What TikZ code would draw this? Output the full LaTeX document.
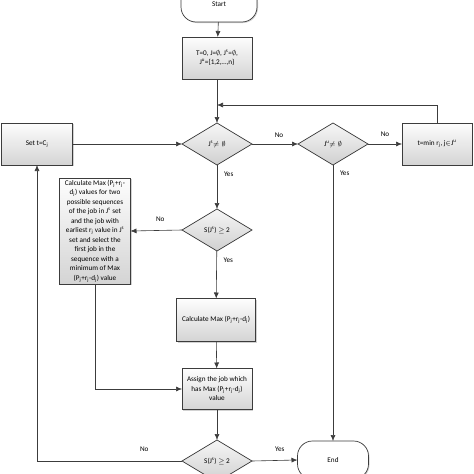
\documentclass[tikz,border=0pt]{standalone}
\usepackage{fontspec}
\setmainfont{Carlito}
\newcommand*{\flowfont}{\fontsize{7.2}{9.5}\selectfont}
\newcommand*{\lo}[1]{\textsubscript{#1}}
\newcommand*{\hi}[1]{\textsuperscript{#1}}
\definecolor{linegrey}{RGB}{60,60,60}
\definecolor{boxtop}{RGB}{253,253,253}
\definecolor{boxbottom}{RGB}{212,212,212}
\definecolor{diatop}{RGB}{246,246,246}
\definecolor{diabottom}{RGB}{208,208,208}
\usepackage{tikz}
\usetikzlibrary{arrows.meta}
\usetikzlibrary{shapes.geometric}
\usetikzlibrary{shadows}
\tikzstyle{base}=[x=1pt, y=-1pt, inner sep=0pt, outer sep=0pt]
\tikzstyle{process}=[draw=linegrey, line width=0.7pt, top color=boxtop, bottom color=boxbottom,
    drop shadow={shadow xshift=1pt, shadow yshift=-1pt, opacity=0.35}, align=center, font=\flowfont]
\tikzstyle{decision}=[diamond, draw=linegrey, line width=0.7pt, top color=diatop, bottom color=diabottom,
    minimum width=70pt, minimum height=42pt, font=\flowfont]
\tikzstyle{terminal}=[draw=linegrey, line width=0.7pt, rounded corners=15pt, fill=white,
    drop shadow={shadow xshift=1pt, shadow yshift=-1pt, opacity=0.35}, font=\flowfont]
\tikzstyle{flow}=[draw=linegrey, line width=0.6pt, -{Latex[length=6pt, width=5pt]}]
\tikzstyle{tag}=[font=\flowfont, inner sep=1pt]

\begin{document}
\begin{tikzpicture}[base]
    \clip (0,0) rectangle (474,474);
    \fill [white] (0,0) rectangle (474,474);
    % nodes
    \node [terminal, minimum width=76pt, minimum height=36pt] (start) at (219,4) {Start};
    \node [process, minimum width=70pt, minimum height=42pt] (init) at (217,58)
        {T=0, J=$\emptyset$, J\hi{s}=$\emptyset$,\\ J\hi{u}=\{1,2,\dots,n\}};
    \node [decision] (unsched) at (217,144) {J\hi{s}$\neq\emptyset$};
    \node [decision] (rest) at (333,144) {J\hi{u}$\neq\emptyset$};
    \node [process, minimum width=71pt, minimum height=42pt] (settime) at (37,144) {Set t=C\lo{j}};
    \node [process, minimum width=70pt, minimum height=42pt] (mintime) at (437,144) {t=min r\lo{j}, j$\in$J\hi{u}};
    \node [decision] (count) at (217,230) {S(J\hi{s}) $\geq$ 2};
    \node [process, minimum width=71pt, minimum height=106pt] (compare) at (95,231)
        {Calculate Max (P\lo{j}+r\lo{j}-\\ d\lo{j}) values for two\\ possible sequences\\ of the job in J\hi{s} set\\
         and the job with\\ earliest r\lo{j} value in J\hi{s}\\ set and select the\\ first job in the\\
         sequence with a\\ minimum of Max\\ (P\lo{j}+r\lo{j}-d\lo{j}) value};
    \node [process, minimum width=79pt, minimum height=43pt] (calc) at (216,320) {Calculate Max (P\lo{j}+r\lo{j}-d\lo{j})};
    \node [process, minimum width=70pt, minimum height=41pt] (assign) at (217,389)
        {Assign the job which\\ has Max (P\lo{j}+r\lo{j}-d\lo{j})\\ value};
    \node [decision] (last) at (217,461) {S(J\hi{s}) $\geq$ 2};
    \node [terminal, minimum width=71pt, minimum height=38pt] (end) at (333,460) {End};
    \coordinate (loop) at (217,105);
    % connectors
    \draw [flow] (start) -- (init);
    \draw [flow] (init) -- (unsched);
    \draw [flow] (settime) -- (unsched);
    \draw [flow] (unsched) -- node [tag, above=5pt, xshift=4pt] {No} (rest);
    \draw [flow] (rest) -- node [tag, above=6pt] {No} (mintime);
    \draw [flow] (mintime.north) |- (loop);
    \draw [flow] (rest.south) -- node [tag, right=6pt, pos=0.03] {Yes} (end.north);
    \draw [flow] (unsched) -- node [tag, right=6pt, pos=0.22] {Yes} (count);
    \draw [flow] (count.west) -- node [tag, above=8pt, xshift=4pt] {No} (compare.east);
    \draw [flow] (count) -- node [tag, right=6pt, pos=0.2] {Yes} (calc);
    \draw [flow] (compare.south) |- (assign.west);
    \draw [flow] (calc) -- (assign);
    \draw [flow] (assign) -- (last);
    \draw [flow] (last.east) -- node [tag, above=8pt, xshift=5pt] {Yes} (end.west);
    \draw [flow] (last.west) -| node [tag, above=8pt, pos=0.13] {No} (settime.south);
\end{tikzpicture}
\end{document}
